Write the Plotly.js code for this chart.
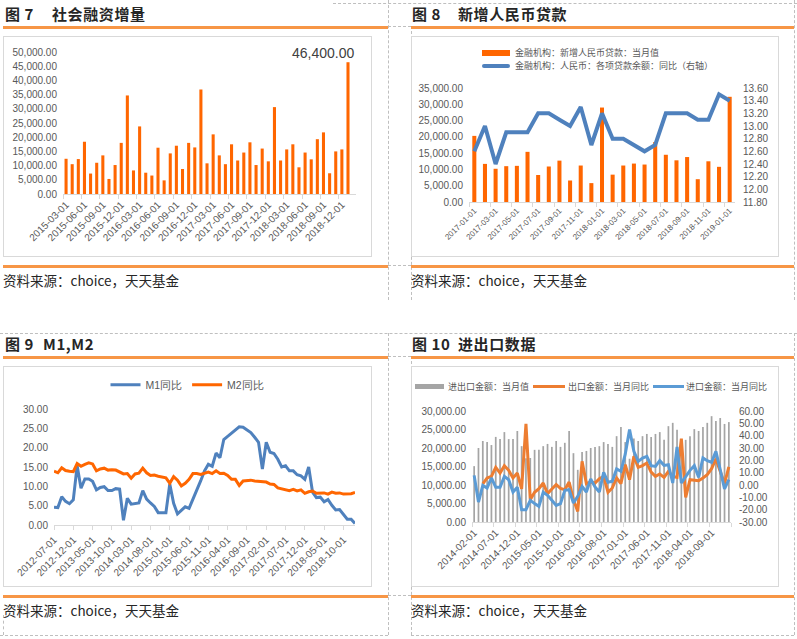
<!DOCTYPE html>
<html>
<head>
<meta charset="utf-8">
<script src="https://cdn.plot.ly/plotly-3.0.1.min.js"></script>
<style>
  body { margin: 0; background: #fff; }
  #page { position: relative; width: 797px; height: 639px; overflow: hidden; background: #fff;
          font-family: "Noto Sans CJK SC", "Noto Sans", sans-serif; }
  .rule { position: absolute; height: 3px; background: #F79646; }
  .dh { position: absolute; height: 0; border-top: 1px dashed #BFBFBF; }
  .dv { position: absolute; width: 0; border-left: 1px dashed #BFBFBF; }
  .box { position: absolute; border: 1px solid #D9D9D9; box-sizing: border-box; background: #fff; }
  .chart { position: absolute; }
  .ttl { position: absolute; font-weight: 700; font-size: 15px; color: #262626; white-space: nowrap; line-height: 15px; letter-spacing: 0.6px; }
  .src { position: absolute; font-size: 13.5px; color: #262626; white-space: nowrap; line-height: 14px; }
  .lg-text { position: absolute; font-size: 9px; color: #595959; white-space: nowrap; line-height: 10px; }
  .lg-sw { position: absolute; }
</style>
</head>
<body>
<div id="page"></div>
<script>
// ---------- data: 社会融资增量 (亿元) ----------
const tsfMonths = [
  '2015-03-01','2015-04-01','2015-05-01','2015-06-01','2015-07-01','2015-08-01','2015-09-01','2015-10-01','2015-11-01','2015-12-01',
  '2016-01-01','2016-02-01','2016-03-01','2016-04-01','2016-05-01','2016-06-01','2016-07-01','2016-08-01','2016-09-01','2016-10-01','2016-11-01','2016-12-01',
  '2017-01-01','2017-02-01','2017-03-01','2017-04-01','2017-05-01','2017-06-01','2017-07-01','2017-08-01','2017-09-01','2017-10-01','2017-11-01','2017-12-01',
  '2018-01-01','2018-02-01','2018-03-01','2018-04-01','2018-05-01','2018-06-01','2018-07-01','2018-08-01','2018-09-01','2018-10-01','2018-11-01','2018-12-01',
  '2019-01-01'];
const tsfValues = [
  12400, 10500, 12300, 18400, 7200, 11000, 13600, 5300, 10200, 18000,
  34700, 8300, 23800, 7500, 6500, 16300, 4800, 14300, 17000, 8800, 18000, 16400,
  36800, 10800, 21000, 13600, 10500, 17500, 11800, 14600, 18200, 10200, 16000, 11500,
  30600, 11800, 15700, 17500, 9400, 14600, 12200, 19300, 21700, 7300, 15000, 15700,
  46400];

// ---------- data: 新增人民币贷款 ----------
const loanMonths = [
  '2017-01-01','2017-02-01','2017-03-01','2017-04-01','2017-05-01','2017-06-01','2017-07-01','2017-08-01','2017-09-01','2017-10-01','2017-11-01','2017-12-01',
  '2018-01-01','2018-02-01','2018-03-01','2018-04-01','2018-05-01','2018-06-01','2018-07-01','2018-08-01','2018-09-01','2018-10-01','2018-11-01','2018-12-01',
  '2019-01-01'];
const newLoans = [
  20300, 11700, 10200, 11000, 11100, 15400, 8300, 10900, 12700, 6600, 11200, 5800,
  29000, 8400, 11200, 11800, 11500, 18400, 14500, 12800, 13800, 7000, 12500, 10800,
  32300];
const loanGrowth = [
  12.6, 13.0, 12.4, 12.9, 12.9, 12.9, 13.2, 13.2, 13.1, 13.0, 13.3, 12.7,
  13.2, 12.8, 12.8, 12.7, 12.6, 12.7, 13.2, 13.2, 13.2, 13.1, 13.1, 13.5,
  13.4];
const loanBarName = '金融机构：新增人民币贷款：当月值';
const loanLineName = '金融机构：人民币：各项贷款余额：同比（右轴）';

// ---------- data: M1, M2 同比 (%) ----------
const moneyMonths = [
  '2012-07-01','2012-08-01','2012-09-01','2012-10-01','2012-11-01','2012-12-01',
  '2013-01-01','2013-02-01','2013-03-01','2013-04-01','2013-05-01','2013-06-01','2013-07-01','2013-08-01','2013-09-01','2013-10-01','2013-11-01','2013-12-01',
  '2014-01-01','2014-02-01','2014-03-01','2014-04-01','2014-05-01','2014-06-01','2014-07-01','2014-08-01','2014-09-01','2014-10-01','2014-11-01','2014-12-01',
  '2015-01-01','2015-02-01','2015-03-01','2015-04-01','2015-05-01','2015-06-01','2015-07-01','2015-08-01','2015-09-01','2015-10-01','2015-11-01','2015-12-01',
  '2016-01-01','2016-02-01','2016-03-01','2016-04-01','2016-05-01','2016-06-01','2016-07-01','2016-08-01','2016-09-01','2016-10-01','2016-11-01','2016-12-01',
  '2017-01-01','2017-02-01','2017-03-01','2017-04-01','2017-05-01','2017-06-01','2017-07-01','2017-08-01','2017-09-01','2017-10-01','2017-11-01','2017-12-01',
  '2018-01-01','2018-02-01','2018-03-01','2018-04-01','2018-05-01','2018-06-01','2018-07-01','2018-08-01','2018-09-01','2018-10-01','2018-11-01','2018-12-01',
  '2019-01-01'];
const m1Growth = [
  4.6, 4.5, 7.3, 6.1, 5.5, 6.5,
  15.3, 9.5, 11.9, 11.9, 11.3, 9.1, 9.7, 9.9, 8.9, 8.9, 9.4, 9.3,
  1.2, 6.9, 5.4, 5.5, 5.7, 8.9, 6.7, 5.7, 4.8, 3.2, 3.2, 3.2,
  10.6, 5.6, 2.9, 3.7, 4.7, 4.3, 6.6, 9.3, 11.4, 14.0, 15.7, 15.2,
  18.6, 17.4, 22.1, 22.9, 23.7, 24.6, 25.4, 25.3, 24.7, 23.9, 22.7, 21.4,
  14.5, 21.4, 18.8, 18.5, 17.0, 15.0, 15.3, 14.0, 14.0, 13.0, 12.7, 11.8,
  15.0, 8.5, 7.1, 7.2, 6.0, 6.6, 5.1, 3.9, 4.0, 2.7, 1.5, 1.5,
  0.4];
const m2Growth = [
  13.9, 13.5, 14.8, 14.1, 13.9, 13.8,
  15.9, 15.2, 15.7, 16.1, 15.8, 14.0, 14.5, 14.7, 14.2, 14.3, 14.2, 13.6,
  13.2, 13.3, 12.1, 13.2, 13.4, 14.7, 13.5, 12.8, 12.9, 12.6, 12.3, 12.2,
  10.8, 12.5, 11.6, 10.1, 10.8, 11.8, 13.3, 13.3, 13.1, 13.5, 13.7, 13.3,
  14.0, 13.3, 13.4, 12.8, 11.8, 11.8, 10.2, 11.4, 11.5, 11.6, 11.4, 11.3,
  11.3, 11.1, 10.6, 10.5, 9.6, 9.4, 9.2, 8.9, 9.2, 8.8, 9.1, 8.2,
  8.6, 8.8, 8.2, 8.3, 8.3, 8.0, 8.5, 8.2, 8.3, 8.0, 8.0, 8.1,
  8.4];
const m1Name = 'M1同比';
const m2Name = 'M2同比';

// ---------- data: 进出口 ----------
const tradeMonths = [
  '2014-02-01','2014-03-01','2014-04-01','2014-05-01','2014-06-01','2014-07-01','2014-08-01','2014-09-01','2014-10-01','2014-11-01','2014-12-01',
  '2015-01-01','2015-02-01','2015-03-01','2015-04-01','2015-05-01','2015-06-01','2015-07-01','2015-08-01','2015-09-01','2015-10-01','2015-11-01','2015-12-01',
  '2016-01-01','2016-02-01','2016-03-01','2016-04-01','2016-05-01','2016-06-01','2016-07-01','2016-08-01','2016-09-01','2016-10-01','2016-11-01','2016-12-01',
  '2017-01-01','2017-02-01','2017-03-01','2017-04-01','2017-05-01','2017-06-01','2017-07-01','2017-08-01','2017-09-01','2017-10-01','2017-11-01','2017-12-01',
  '2018-01-01','2018-02-01','2018-03-01','2018-04-01','2018-05-01','2018-06-01','2018-07-01','2018-08-01','2018-09-01','2018-10-01','2018-11-01','2018-12-01',
  '2019-01-01'];
const tradeTotal = [
  15100, 20000, 21900, 21600, 20800, 23000, 22400, 24300, 22400, 22400, 24600,
  20500, 17200, 17300, 19500, 19500, 20500, 21100, 20300, 21900, 20300, 21400, 24600,
  18600, 14100, 18900, 19200, 20000, 20300, 20500, 21600, 21100, 20300, 23200, 25700,
  21600, 17100, 22600, 21900, 23200, 23800, 23000, 23800, 24300, 22200, 25900, 26800,
  24900, 20000, 22200, 23200, 25100, 24600, 25700, 26800, 28600, 27300, 28100, 26500,
  27000];
const exportYoY = [
  null, null, 0.9, 5.7, 7.0, 14.3, 9.7, 15.7, 11.9, 5.7, 9.7,
  -3.2, 49.5, -11.9, -5.9, -3.0, 1.6, -7.0, -3.2, 0.3, -2.7, -3.8, 2.4,
  -11.9, -21.4, 19.2, 1.1, 2.4, 1.6, 5.1, 7.0, -5.9, -2.4, 5.7, 1.1,
  16.5, 4.3, 23.2, 14.3, 15.7, 17.8, 10.5, 7.0, 8.9, 6.2, 11.1, 7.0,
  6.2, 37.6, -10.0, 4.3, 3.8, 3.5, 5.7, 8.4, 13.2, 21.1, 11.1, 1.1,
  14.6];
const importYoY = [
  7.8, -13.8, -0.3, -2.4, 5.7, -1.9, -1.9, 7.0, 4.3, -5.7, -1.9,
  -20.0, -20.0, -12.4, -15.1, -17.3, -5.9, -8.4, -12.4, -16.5, -15.1, -4.3, -3.8,
  -14.6, -9.2, -1.1, -5.7, 4.9, -1.6, -5.7, 10.3, 2.2, 3.0, 13.0, 11.1,
  25.0, 44.9, 27.3, 19.2, 21.9, 23.2, 15.7, 15.1, 19.7, 15.9, 16.5, 1.6,
  30.8, 1.6, 7.0, 11.9, 15.7, 6.2, 21.9, 19.7, 18.4, 27.3, 12.4, -3.2,
  4.3];
const tradeBarName = '进出口金额：当月值';
const exportName = '出口金额：当月同比';
const importName = '进口金额：当月同比';
const rightTicks10 = [-30, -20, -10, 0, 10, 20, 30, 40, 50, 60];

// ---------- shared styling ----------
const ORANGE = '#FF6600';
const BLUE = '#4F81BD';
const AX_FONT = { family: 'Liberation Sans, Arial, sans-serif', size: 10, color: '#595959' };
const GRID_GRAY = '#D9D9D9';
const page = document.getElementById('page');

function el(cls, css, text) {
  const d = document.createElement('div');
  d.className = cls;
  Object.assign(d.style, css);
  if (text !== undefined) d.textContent = text;
  page.appendChild(d);
  return d;
}
const px = v => v + 'px';
function dashH(x1, x2, y) { el('dh', { left: px(x1), top: px(y), width: px(x2 - x1) }); }
function dashV(x, y1, y2) { el('dv', { left: px(x), top: px(y1), height: px(y2 - y1) }); }

// page frame: dashed table lines
dashH(333, 797, 3);
dashV(388, 0, 300); dashV(411, 26, 300); dashV(794, 0, 300);
dashH(388, 411, 26); dashH(388, 411, 265);
dashH(0, 797, 333);
dashV(388, 333, 635); dashV(411, 356, 635); dashV(794, 333, 635);
dashH(388, 411, 356); dashH(388, 411, 595);
dashH(0, 388, 635); dashH(411, 794, 635);
dashV(3, 615, 635);

// panel headers, rules and source lines
function panelFrame(x1, x2, yTop, numText, numX, nameText, nameX) {
  el('ttl', { left: px(numX), top: px(yTop + 6) }, numText);
  el('ttl', { left: px(nameX), top: px(yTop + 6) }, nameText);
  el('rule', { left: px(x1), top: px(yTop + 26), width: px(x2 - x1) });
  el('rule', { left: px(x1), top: px(yTop + 265), width: px(x2 - x1) });
  el('src', { left: px(x1), top: px(yTop + 273) }, '资料来源：choice，天天基金');
}
panelFrame(3, 388, 0, '图 7', 5, '社会融资增量', 52);
panelFrame(411, 794, 0, '图 8', 412, '新增人民币贷款', 458);
panelFrame(3, 388, 330, '图 9', 5, 'M1,M2', 43);
panelFrame(411, 794, 330, '图 10', 412, '进出口数据', 458);

function chartBox(x, y, w, h, id) {
  el('box', { left: px(x), top: px(y), width: px(w), height: px(h) });
  const c = el('chart', { left: px(x), top: px(y), width: px(w), height: px(h) });
  c.id = id;
  return c;
}
const cfg = { staticPlot: true, displayModeBar: false };
const baseLayout = (w, h, m) => ({
  width: w, height: h, margin: m,
  paper_bgcolor: 'rgba(0,0,0,0)', plot_bgcolor: 'rgba(0,0,0,0)',
  showlegend: false, font: AX_FONT
});
const catAxis = (extra) => Object.assign({
  type: 'category', showgrid: false, zeroline: false,
  showline: true, linecolor: GRID_GRAY, linewidth: 1,
  ticks: 'outside', ticklen: 4, tickcolor: GRID_GRAY, tickwidth: 1,
  tickangle: -45, tickfont: AX_FONT
}, extra);
const valAxis = (extra) => Object.assign({
  showgrid: false, zeroline: false, showline: false, ticks: '',
  ticklabelstandoff: 5, tickfont: AX_FONT
}, extra);
const fmtThousands = v => v.toLocaleString('en-US', { minimumFractionDigits: 2, maximumFractionDigits: 2 });

// ---------- 图7 社会融资增量 ----------
chartBox(3, 36, 369, 221, 'c7');
const lastIdx = tsfValues.length - 1;
Plotly.newPlot('c7', [{
  type: 'bar', x: tsfMonths, y: tsfValues, marker: { color: ORANGE }, hoverinfo: 'skip'
}], Object.assign(baseLayout(369, 221, { l: 60, r: 16, t: 16, b: 63 }), {
  bargap: 0.5,
  xaxis: catAxis({ tickson: 'boundaries', dtick: 3, tick0: 0 }),
  yaxis: valAxis({ range: [0, 50000], dtick: 5000, tickformat: ',.2f' }),
  annotations: [{
    x: tsfMonths[lastIdx], y: tsfValues[lastIdx], text: fmtThousands(tsfValues[lastIdx]),
    showarrow: false, xanchor: 'right', yanchor: 'bottom', xshift: 8, yshift: -1,
    font: { family: 'Liberation Sans, Arial, sans-serif', size: 14, color: '#404040' }
  }]
}), cfg);

// ---------- 图8 新增人民币贷款 ----------
chartBox(411, 36, 368, 221, 'c8');
Plotly.newPlot('c8', [
  { type: 'bar', x: loanMonths, y: newLoans, name: loanBarName, marker: { color: ORANGE }, hoverinfo: 'skip' },
  { type: 'scatter', mode: 'lines', x: loanMonths, y: loanGrowth, name: loanLineName, yaxis: 'y2',
    line: { color: BLUE, width: 4 }, hoverinfo: 'skip' }
], Object.assign(baseLayout(368, 221, { l: 58, r: 44, t: 52, b: 55 }), {
  bargap: 0.62,
  xaxis: catAxis({ tickson: 'boundaries', dtick: 2, tick0: 0, tickfont: Object.assign({}, AX_FONT, { size: 8 }) }),
  yaxis: valAxis({ range: [0, 35000], dtick: 5000, tickformat: ',.2f' }),
  yaxis2: valAxis({ range: [11.8, 13.6], dtick: 0.2, tickformat: '.2f', overlaying: 'y', side: 'right', ticklabelstandoff: 7 })
}), cfg);
// legend
el('lg-sw', { left: '482px', top: '50px', width: '28px', height: '6px', background: ORANGE });
el('lg-text', { left: '515px', top: '48px' }, loanBarName);
el('lg-sw', { left: '482px', top: '64px', width: '28px', height: '4px', background: BLUE, borderRadius: '2px' });
el('lg-text', { left: '515px', top: '61px' }, loanLineName);

// ---------- 图9 M1,M2 ----------
chartBox(3, 366, 369, 221, 'c9');
Plotly.newPlot('c9', [
  { type: 'scatter', mode: 'lines', x: moneyMonths, y: m1Growth, name: m1Name, line: { color: BLUE, width: 3 }, hoverinfo: 'skip' },
  { type: 'scatter', mode: 'lines', x: moneyMonths, y: m2Growth, name: m2Name, line: { color: ORANGE, width: 3 }, hoverinfo: 'skip' }
], Object.assign(baseLayout(369, 221, { l: 51, r: 17, t: 43, b: 62 }), {
  showlegend: true,
  legend: { orientation: 'h', xref: 'container', yref: 'container', x: 0.5, xanchor: 'center', y: 0.915, yanchor: 'middle',
            font: { family: 'Liberation Sans, Arial, sans-serif', size: 10.5, color: '#595959' },
            itemwidth: 30, tracegroupgap: 0 },
  xaxis: catAxis({ range: [0, moneyMonths.length - 1], dtick: 5, tick0: 0 }),
  yaxis: valAxis({ range: [0, 30], dtick: 5, tickformat: '.2f' })
}), cfg);

// ---------- 图10 进出口数据 ----------
chartBox(411, 366, 368, 221, 'c10');
Plotly.newPlot('c10', [
  { type: 'bar', x: tradeMonths, y: tradeTotal, name: tradeBarName, marker: { color: '#A5A5A5' }, hoverinfo: 'skip' },
  { type: 'scatter', mode: 'lines', x: tradeMonths, y: exportYoY, name: exportName, yaxis: 'y2',
    line: { color: '#ED7D31', width: 3 }, hoverinfo: 'skip' },
  { type: 'scatter', mode: 'lines', x: tradeMonths, y: importYoY, name: importName, yaxis: 'y2',
    line: { color: '#5B9BD5', width: 3 }, hoverinfo: 'skip' }
], Object.assign(baseLayout(368, 221, { l: 61, r: 48, t: 45, b: 65 }), {
  bargap: 0.6,
  xaxis: catAxis({ tickson: 'boundaries', dtick: 5, tick0: 0 }),
  yaxis: valAxis({ range: [0, 30000], dtick: 5000, tickformat: ',.2f' }),
  yaxis2: valAxis({ range: [-30, 60], tickvals: rightTicks10, ticktext: rightTicks10.map(v => v.toFixed(2)),
                    overlaying: 'y', side: 'right', ticklabelstandoff: 7 })
}), cfg);
// legend
el('lg-sw', { left: '415px', top: '384px', width: '29px', height: '5px', background: '#A5A5A5' });
el('lg-text', { left: '448px', top: '382px' }, tradeBarName);
el('lg-sw', { left: '533px', top: '385px', width: '32px', height: '3px', background: '#ED7D31' });
el('lg-text', { left: '568px', top: '382px' }, exportName);
el('lg-sw', { left: '653px', top: '385px', width: '31px', height: '3px', background: '#5B9BD5' });
el('lg-text', { left: '686px', top: '382px' }, importName);
</script>
</body>
</html>
